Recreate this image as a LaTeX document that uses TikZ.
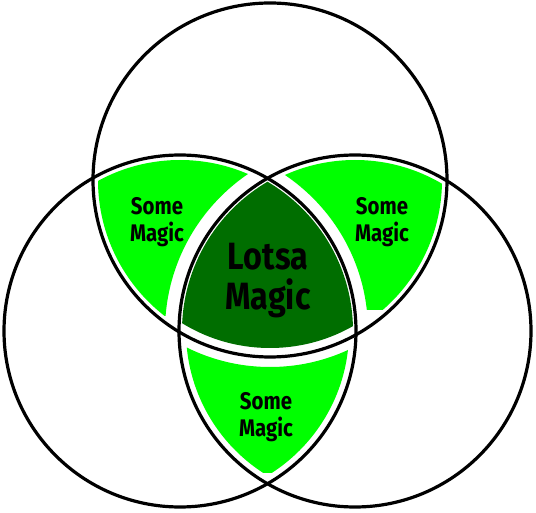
\documentclass[tikz,border=0pt]{standalone}
\usepackage{fontspec}
\newfontfamily\magicfont[FakeStretch=0.85]{Fira Sans}
\definecolor{mgreen}{HTML}{00FF00}
\definecolor{dgreen}{HTML}{006E00}
\tikzset{
  ring/.style={draw=black, line width=3.2pt},
  smalllabel/.style={align=center, inner sep=0pt, font=\magicfont\bfseries\fontsize{24}{27}\selectfont},
  biglabel/.style={align=center, inner sep=0pt, font=\magicfont\bfseries\fontsize{38}{40}\selectfont}
}
\begin{document}
\begin{tikzpicture}[x=1pt,y=-1pt]
\useasboundingbox (0,0) rectangle (536,513);
\coordinate (T) at (270,180);
\coordinate (L) at (180,331);
\coordinate (Rt) at (355,331);
% top-left region
\begin{scope}
  \clip (0,0) rectangle (536,316);
  \clip (T) circle (172pt);
  \clip (L) circle (171pt);
  \fill[mgreen, even odd rule] (0,0) rectangle (536,513) (Rt) circle (190pt);
\end{scope}
% top-right region
\begin{scope}
  \clip (0,0) rectangle (536,310);
  \clip (T) circle (172pt);
  \clip (Rt) circle (171pt);
  \fill[mgreen, even odd rule] (0,0) rectangle (536,513) (L) circle (188pt);
\end{scope}
% bottom region
\begin{scope}
  \clip (0,0) rectangle (536,472);
  \clip (L) circle (169pt);
  \clip (Rt) circle (169pt);
  \fill[mgreen, even odd rule] (0,0) rectangle (536,513) (T) circle (187pt);
\end{scope}
% centre region
\begin{scope}
  \clip (T) circle (168pt);
  \clip (L) circle (173pt);
  \clip (Rt) circle (173pt);
  \fill[dgreen] (0,0) rectangle (536,513);
\end{scope}
\draw[ring] (T) circle (177pt);
\draw[ring] (L) circle (176pt);
\draw[ring] (Rt) circle (176pt);
\node[smalllabel] (tl) at (157,222) {Some\\Magic};
\node[smalllabel] (tr) at (382,222) {Some\\Magic};
\node[smalllabel] (bm) at (266,417) {Some\\Magic};
\node[biglabel] (ct) at (268,281) {Lotsa\\Magic};
\end{tikzpicture}
\end{document}
